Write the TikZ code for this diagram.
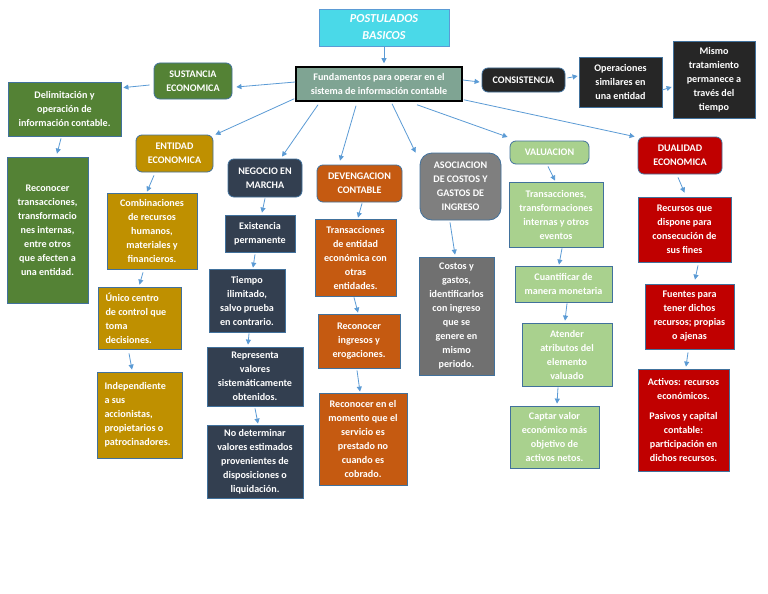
\documentclass[tikz,border=0pt]{standalone}
\usepackage{fontspec}
\setmainfont{Carlito}
\usetikzlibrary{arrows.meta}
\definecolor{cgreen}{HTML}{548235}
\definecolor{cgold}{HTML}{BF9000}
\definecolor{cnavy}{HTML}{333F50}
\definecolor{corange}{HTML}{C55A11}
\definecolor{cgrayA}{HTML}{7F7F7F}
\definecolor{cgrayB}{HTML}{707070}
\definecolor{clgreen}{HTML}{A9D18E}
\definecolor{cred}{HTML}{C00000}
\definecolor{cblack}{HTML}{262626}
\definecolor{ccyan}{HTML}{4AD9E8}
\definecolor{cfund}{HTML}{7FA493}
\definecolor{cbord}{HTML}{41719C}
\definecolor{carrow}{HTML}{5B9BD5}
\newcommand\cfont{\fontsize{10.1}{14}\selectfont\bfseries}
\tikzset{
  bx/.style={draw=cbord, line width=0.8pt, inner sep=0pt, align=center, text=white, font=\cfont},
  rbx/.style={bx, rounded corners=6pt},
  arr/.style={draw=carrow, line width=0.8pt, -{Triangle[length=5pt,width=5pt]}},
}
\newcommand\arrw[6]{\draw[arr] ([xshift=#2pt,yshift=#3pt]#1) -- ([xshift=#5pt,yshift=#6pt]#4);}
\begin{document}
\begin{tikzpicture}[x=1pt,y=-1pt]
\fill[white] (0,0) rectangle (768,594);
\useasboundingbox (0,0) rectangle (768,594);

% top
\node[bx, draw=carrow, fill=ccyan, minimum width=130pt, minimum height=37pt, font=\fontsize{12.2}{17}\selectfont\bfseries\itshape] (post) at (384,27.5) {POSTULADOS\\BASICOS};
\node[bx, draw=black, line width=1.5pt, fill=cfund, minimum width=166pt, minimum height=34pt] (fund) at (379,84) {Fundamentos para operar en el\\sistema de información contable};

% sustancia
\node[rbx, fill=cgreen, minimum width=78pt, minimum height=36pt] (sus) at (193,81) {SUSTANCIA\\ECONOMICA};
\node[bx, fill=cgreen, minimum width=113pt, minimum height=54pt] (deli) at (64.5,109) {Delimitación y\\operación de\\información contable.};
\node[bx, fill=cgreen, minimum width=81pt, minimum height=146pt] (recon) at (47.5,230) {Reconocer\\transacciones,\\transformacio\\nes internas,\\entre otros\\que afecten a\\una entidad.};

% entidad
\node[rbx, fill=cgold, minimum width=77pt, minimum height=37pt] (ent) at (174.5,153.5) {ENTIDAD\\ECONOMICA};
\node[bx, fill=cgold, minimum width=90pt, minimum height=76pt] (comb) at (152,231) {Combinaciones\\de recursos\\humanos,\\materiales y\\financieros.};
\node[bx, fill=cgold, minimum width=83pt, minimum height=62pt, text width=68pt, align=flush left] (unico) at (139.5,318) {Único centro\\de control que\\toma\\decisiones.};
\node[bx, fill=cgold, minimum width=85pt, minimum height=86pt, text width=70pt, align=flush left] (indep) at (139.5,415) {Independiente\\a sus\\accionistas,\\propietarios o\\patrocinadores.};

% consistencia
\node[rbx, fill=cblack, minimum width=83pt, minimum height=24pt] (cons) at (523.5,80) {CONSISTENCIA};
\node[bx, fill=cblack, minimum width=83pt, minimum height=50pt] (oper) at (620.5,82) {Operaciones\\similares en\\una entidad};
\node[bx, fill=cblack, minimum width=82pt, minimum height=77pt] (mismo) at (714,79.5) {Mismo\\tratamiento\\permanece a\\través del\\tiempo};

% negocio
\node[rbx, fill=cnavy, minimum width=74pt, minimum height=38pt] (neg) at (265,178) {NEGOCIO EN\\MARCHA};
\node[bx, fill=cnavy, minimum width=70pt, minimum height=37pt] (exis) at (260,233.5) {Existencia\\permanente};
\node[bx, fill=cnavy, minimum width=76pt, minimum height=63pt] (tiem) at (247,300.5) {Tiempo\\ilimitado,\\salvo prueba\\en contrario.};
\node[bx, fill=cnavy, minimum width=96pt, minimum height=59pt] (repr) at (255,376.5) {Representa\\valores\\sistemáticamente\\obtenidos.};
\node[bx, fill=cnavy, minimum width=96pt, minimum height=73pt] (nodet) at (255,461.5) {No determinar\\valores estimados\\provenientes de\\disposiciones o\\liquidación.};

% devengacion
\node[rbx, fill=corange, minimum width=85pt, minimum height=37pt] (dev) at (359.5,183.5) {DEVENGACION\\CONTABLE};
\node[bx, fill=corange, minimum width=81pt, minimum height=77pt] (trans) at (355.5,257.5) {Transacciones\\de entidad\\económica con\\otras\\entidades.};
\node[bx, fill=corange, minimum width=82pt, minimum height=54pt] (ring) at (359,341) {Reconocer\\ingresos y\\erogaciones.};
\node[bx, fill=corange, minimum width=88pt, minimum height=92pt] (rmom) at (363,439) {Reconocer en el\\momento que el\\servicio es\\prestado no\\cuando es\\cobrado.};

% asociacion
\node[bx, rounded corners=12pt, fill=cgrayA, minimum width=81pt, minimum height=67pt] (asoc) at (460.5,186.5) {ASOCIACION\\DE COSTOS Y\\GASTOS DE\\INGRESO};
\node[bx, fill=cgrayB, minimum width=75pt, minimum height=118pt] (cost) at (456.5,316) {Costos y\\gastos,\\identificarlos\\con ingreso\\que se\\genere en\\mismo\\periodo.};

% valuacion
\node[rbx, fill=clgreen, minimum width=79pt, minimum height=23pt] (val) at (549.5,152.5) {VALUACION};
\node[bx, fill=clgreen, minimum width=94pt, minimum height=65pt] (vtr) at (556,214.5) {Transacciones,\\transformaciones\\internas y otros\\eventos};
\node[bx, fill=clgreen, minimum width=97pt, minimum height=36pt] (cuan) at (563.5,284) {Cuantificar de\\manera monetaria};
\node[bx, fill=clgreen, minimum width=90pt, minimum height=63pt] (aten) at (567,354.5) {Atender\\atributos del\\elemento\\valuado};
\node[bx, fill=clgreen, minimum width=89pt, minimum height=62pt] (capt) at (554.5,437) {Captar valor\\económico más\\objetivo de\\activos netos.};

% dualidad
\node[rbx, fill=cred, minimum width=84pt, minimum height=37pt] (dual) at (680,155.5) {DUALIDAD\\ECONOMICA};
\node[bx, fill=cred, minimum width=93pt, minimum height=65pt] (recu) at (684.5,229.5) {Recursos que\\dispone para\\consecución de\\sus fines};
\node[bx, fill=cred, minimum width=89pt, minimum height=65pt] (fuen) at (689.5,316.5) {Fuentes para\\tener dichos\\recursos; propias\\o ajenas};
\node[bx, fill=cred, minimum width=91pt, minimum height=102pt] (acti) at (683.5,420) {Activos: recursos\\económicos.\\[6pt]Pasivos y capital\\contable:\\participación en\\dichos recursos.};

% arrows
\draw[arr] (post.south) -- ([yshift=3pt]post.south |- fund.north);
\arrw{fund.west}{0}{2}{sus.east}{4}{-6}
\arrw{sus.west}{-4}{-4}{deli.north east}{2}{-6}
\arrw{deli.south}{-3.5}{-2}{recon.north}{9.5}{3}
\arrw{fund.south west}{-1}{3}{ent.north east}{2}{0}
\arrw{ent.south}{-20.5}{-3}{comb.north}{-5}{1}
\arrw{comb.south}{-9}{-3}{unico.north}{0}{2}
\arrw{unico.south}{-10.5}{-4}{indep.north}{-7.5}{2}
\arrw{fund.south}{-61}{-3}{neg.north}{17}{2}
\arrw{fund.south}{-23}{-4}{dev.north}{-19.5}{4}
\arrw{fund.south}{13}{-2}{asoc.north west}{-4}{0}
\arrw{fund.south}{38}{-3}{val.west}{-2}{15.5}
\arrw{fund.south east}{1}{2}{dual.north west}{-3}{0}
\arrw{fund.east}{0}{4}{cons.west}{-2}{-2}
\arrw{cons.east}{2}{2}{oper.west}{-1}{6}
\arrw{oper.east}{0}{-8}{mismo.west}{-1}{-7.5}
\arrw{neg.south}{0}{-1}{exis.north}{2}{2}
\arrw{exis.south}{-5}{-2}{tiem.north}{6}{1}
\arrw{tiem.south}{2}{-1}{repr.north}{-7}{2}
\arrw{repr.south}{0}{-2}{nodet.north}{3}{1}
\arrw{dev.south}{2.5}{-1}{trans.north}{2.5}{1}
\arrw{trans.south}{-1.5}{-1}{ring.north}{-1}{1}
\arrw{ring.south}{-2}{-2}{rmom.north}{-3}{1}
\arrw{asoc.south}{-10.5}{-2}{cost.north}{-1.5}{2}
\arrw{val.south}{-1.5}{-2}{vtr.north}{-1}{1}
\arrw{vtr.south}{6}{-1}{cuan.north}{-4.5}{1}
\arrw{cuan.south}{3.5}{-1}{aten.north}{-2}{2}
\arrw{aten.south}{-9}{-1}{capt.north}{2.5}{2}
\arrw{dual.south}{-2}{-3}{recu.north}{0}{4}
\arrw{recu.south}{13.5}{-3}{fuen.north}{5.5}{4}
\arrw{fuen.south}{-1.5}{-3}{acti.north}{2.5}{2}
\end{tikzpicture}
\end{document}
